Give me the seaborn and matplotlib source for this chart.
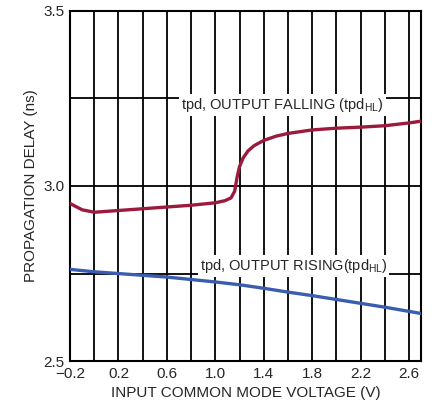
import numpy as np
import matplotlib
matplotlib.use("Agg")
import matplotlib.pyplot as plt
import seaborn as sns

sns.set_style("white")
plt.rcParams['font.family'] = ['Liberation Sans Narrow', 'Liberation Sans', 'DejaVu Sans']

# falling edge delay (tpdHL)
fall_v = [-0.2, -0.1, 0.0, 0.2, 0.4, 0.6, 0.8, 1.0, 1.08, 1.13, 1.16, 1.18, 1.2, 1.23, 1.27, 1.32, 1.4, 1.5, 1.6, 1.8, 2.0, 2.2, 2.4, 2.6, 2.7]
fall_t = [2.95, 2.932, 2.925, 2.93, 2.935, 2.94, 2.945, 2.952, 2.958, 2.966, 2.985, 3.025, 3.055, 3.08, 3.1, 3.115, 3.13, 3.142, 3.15, 3.16, 3.165, 3.168, 3.172, 3.18, 3.185]
# rising edge delay
rise_v = [-0.2, 0.0, 0.2, 0.4, 0.6, 0.8, 1.0, 1.2, 1.4, 1.6, 1.8, 2.0, 2.2, 2.4, 2.6, 2.7]
rise_t = [2.762, 2.755, 2.75, 2.745, 2.74, 2.733, 2.726, 2.718, 2.708, 2.697, 2.687, 2.676, 2.665, 2.654, 2.642, 2.636]

xticks = [-0.2, 0.2, 0.6, 1.0, 1.4, 1.8, 2.2, 2.6]
yticks = [2.5, 3.0, 3.5]

fig = plt.figure(figsize=(4.35, 4.17), dpi=100)
ax = fig.add_axes([0.161, 0.134, 0.807, 0.84])

for gx in np.arange(-0.2, 2.65, 0.2):
    ax.axvline(gx, color='black', lw=1.3, zorder=1)
for gy in [2.75, 3.0, 3.25]:
    ax.axhline(gy, color='black', lw=1.3, zorder=1)

sns.lineplot(x=fall_v, y=fall_t, ax=ax, color='#9b1b3c', lw=2.4, zorder=3)
sns.lineplot(x=rise_v, y=rise_t, ax=ax, color='#3a5db0', lw=2.4, zorder=3)

box = dict(facecolor='white', edgecolor='none', pad=1.5)
ax.text(0.72, 3.232, 'tpd, OUTPUT FALLING (tpd$_{\\mathregular{HL}}$)', fontsize=10.5, va='center', bbox=box, zorder=2)
ax.text(0.87, 2.772, 'tpd, OUTPUT RISING(tpd$_{\\mathregular{HL}}$)', fontsize=10.5, va='center', bbox=box, zorder=2)

ax.set_xlim(-0.2, 2.7)
ax.set_ylim(2.5, 3.5)
ax.set_xticks(xticks)
ax.set_xticklabels([f'{t:.1f}'.replace('-', '\u2212') for t in xticks])
ax.set_yticks(yticks)
ax.set_yticklabels([f'{t:.1f}' for t in yticks])
ax.tick_params(labelsize=11, length=0, pad=4)
for s in ax.spines.values():
    s.set_color('black')
    s.set_linewidth(1.5)
ax.set_xlabel('INPUT COMMON MODE VOLTAGE (V)', fontsize=11)
ax.set_ylabel('PROPAGATION DELAY (ns)', fontsize=11)

fig.savefig('out.png', dpi=100)
